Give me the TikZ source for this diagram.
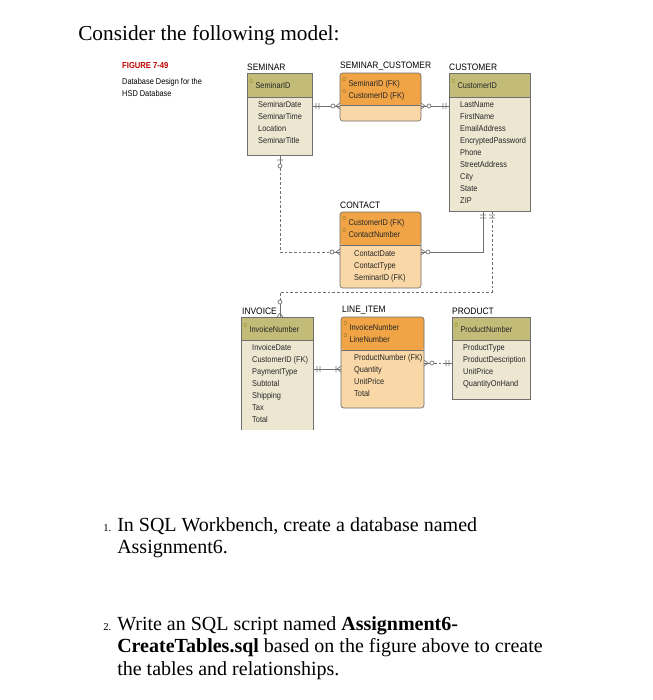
\documentclass[tikz,border=0pt]{standalone}
\usepackage{fontspec}
\setmainfont{Liberation Serif}
\newfontfamily\sansf{Liberation Sans}
\definecolor{ghead}{HTML}{C3BB78}
\definecolor{gbody}{HTML}{EDE7D2}
\definecolor{ohead}{HTML}{F0A446}
\definecolor{obody}{HTML}{FAD7A6}
\definecolor{lnc}{HTML}{707070}
\begin{document}
\begin{tikzpicture}[x=0.75pt,y=-0.75pt,
  ent/.style={draw=lnc,line width=0.5pt},
  etxt/.style={anchor=north west,inner sep=0pt,font=\sansf\fontsize{6.3}{9}\selectfont,text=black!85,align=left,xscale=0.88},
  ttl/.style={anchor=south west,inner sep=0pt,font=\sansf\fontsize{7}{8}\selectfont,xscale=0.9},
  rel/.style={lnc,line width=0.6pt},
  drel/.style={lnc,line width=0.6pt,dashed,dash pattern=on 2pt off 1.5pt},
  mk/.style={lnc,line width=0.5pt},
  body/.style={anchor=north west,inner sep=0pt,font=\fontsize{15}{17}\selectfont,align=left}]
\fill[white] (0,0) rectangle (653,700);
\useasboundingbox (0,0) rectangle (653,700);
\node[anchor=west,inner sep=0pt,font=\fontsize{16}{18}\selectfont] (head) at (78,35) {Consider the following model:};
\node[anchor=west,inner sep=0pt,font=\sansf\fontsize{6.5}{8}\selectfont\bfseries,text=red!75!black,xscale=0.88] (fig) at (122,66) {FIGURE 7-49};
\node[anchor=north west,inner sep=0pt,font=\sansf\fontsize{6.3}{9}\selectfont,align=left,xscale=0.88] (cap) at (122,78) {Database Design for the\\HSD Database};
% SEMINAR
\fill[gbody] (247,73) rectangle (312,155); \fill[ghead] (247,73) rectangle (312,97);
\draw[ent] (247,73) rectangle (312,155); \draw[ent] (247,97)--(312,97);
\node[ttl] (tsem) at (247,71) {SEMINAR};
\node[etxt] (ksem) at (249,79) {\textcolor{olive}{\small$^{\circ}$}\,SeminarID};
\node[etxt] (asem) at (258,101) {SeminarDate\\SeminarTime\\Location\\SeminarTitle};
% SEMINAR_CUSTOMER
\fill[obody,rounded corners=2pt] (340,73) rectangle (421,121); \fill[ohead,rounded corners=2pt] (340,73) rectangle (421,105);
\draw[ent,rounded corners=2pt] (340,73) rectangle (421,121); \draw[ent] (340,105)--(421,105);
\node[ttl] (tsc) at (340,71) {SEMINAR\_CUSTOMER};
\node[etxt] (ksc) at (342,77) {\textcolor{olive!70!black}{\small$^{\circ}$}\,SeminarID (FK)\\\textcolor{olive!70!black}{\small$^{\circ}$}\,CustomerID (FK)};
% CUSTOMER
\fill[gbody] (449,73) rectangle (530,211); \fill[ghead] (449,73) rectangle (530,97);
\draw[ent] (449,73) rectangle (530,211); \draw[ent] (449,97)--(530,97);
\node[ttl] (tcu) at (449,71) {CUSTOMER};
\node[etxt] (kcu) at (451,79) {\textcolor{olive}{\small$^{\circ}$}\,CustomerID};
\node[etxt] (acu) at (460,101) {LastName\\FirstName\\EmailAddress\\EncryptedPassword\\Phone\\StreetAddress\\City\\State\\ZIP};
% CONTACT
\fill[obody,rounded corners=2pt] (340,212) rectangle (421,288); \fill[ohead,rounded corners=2pt] (340,212) rectangle (421,245);
\draw[ent,rounded corners=2pt] (340,212) rectangle (421,288); \draw[ent] (340,245)--(421,245);
\node[ttl] (tco) at (340,209) {CONTACT};
\node[etxt] (kco) at (342,216) {\textcolor{olive!70!black}{\small$^{\circ}$}\,CustomerID (FK)\\\textcolor{olive!70!black}{\small$^{\circ}$}\,ContactNumber};
\node[etxt] (aco) at (354,250) {ContactDate\\ContactType\\SeminarID (FK)};
% INVOICE
\fill[gbody] (241,317) rectangle (313,430); \fill[ghead] (241,317) rectangle (313,340);
\draw[ent] (241,317)--(313,317)--(313,430); \draw[ent] (241,317)--(241,430); \draw[ent] (241,340)--(313,340);
\node[ttl] (tin) at (242,315) {INVOICE};
\node[etxt] (kin) at (243,323) {\textcolor{olive}{\small$^{\circ}$}\,InvoiceNumber};
\node[etxt] (ain) at (252,344) {InvoiceDate\\CustomerID (FK)\\PaymentType\\Subtotal\\Shipping\\Tax\\Total};
% LINE_ITEM
\fill[obody,rounded corners=2pt] (341,317) rectangle (424,408); \fill[ohead,rounded corners=2pt] (341,317) rectangle (424,350);
\draw[ent,rounded corners=2pt] (341,317) rectangle (424,408); \draw[ent] (341,350)--(424,350);
\node[ttl] (tli) at (342,315) {LINE\_ITEM};
\node[etxt] (kli) at (343,321) {\textcolor{olive!70!black}{\small$^{\circ}$}\,InvoiceNumber\\\textcolor{olive!70!black}{\small$^{\circ}$}\,LineNumber};
\node[etxt] (ali) at (354,354) {ProductNumber (FK)\\Quantity\\UnitPrice\\Total};
% PRODUCT
\fill[gbody] (452,317) rectangle (530,399); \fill[ghead] (452,317) rectangle (530,340);
\draw[ent] (452,317) rectangle (530,399); \draw[ent] (452,340)--(530,340);
\node[ttl] (tpr) at (452,315) {PRODUCT};
\node[etxt] (kpr) at (454,323) {\textcolor{olive}{\small$^{\circ}$}\,ProductNumber};
\node[etxt] (apr) at (463,344) {ProductType\\ProductDescription\\UnitPrice\\QuantityOnHand};
% relationships
\coordinate (a1) at (312,106); \coordinate (a2) at (340,106);
\draw[rel] (a1)--(331,106) (335,106)--(a2);
\draw[mk] (316,103)--(316,109) (319,103)--(319,109) (333,106) circle (2) (336,106)--(340,103) (336,106)--(340,109);
\coordinate (b1) at (421,106); \coordinate (b2) at (449,106);
\draw[rel] (b1)--(427,106) (431,106)--(b2);
\draw[mk] (425,106)--(421,103) (425,106)--(421,109) (429,106) circle (2) (443,103)--(443,109) (446,103)--(446,109);
\coordinate (c1) at (280,155); \coordinate (c2) at (280,252); \coordinate (c3) at (340,252);
\draw[drel] (280,168)--(c2)--(330,252); \draw[rel] (c1)--(280,164) (334,252)--(c3);
\draw[mk] (277,160)--(283,160) (280,166) circle (2) (332,252) circle (2) (336,252)--(340,249) (336,252)--(340,255);
\coordinate (d1) at (421,252); \coordinate (d2) at (483,211);
\draw[rel] (d1)--(426,252) (430,252)--(483,252)--(d2);
\draw[mk] (425,252)--(421,249) (425,252)--(421,255) (428,252) circle (2) (480,215)--(486,215) (480,218)--(486,218);
\coordinate (e1) at (492,211); \coordinate (e2) at (280,317);
\draw[drel] (e1)--(492,292)--(280,292)--(280,300);
\draw[rel] (280,304)--(e2);
\draw[mk] (489,215)--(495,215) (489,218)--(495,218) (280,302) circle (2) (280,313)--(277,317) (280,313)--(283,317);
\coordinate (f1) at (313,369); \coordinate (f2) at (341,369);
\draw[rel] (f1)--(f2);
\draw[mk] (317,366)--(317,372) (320,366)--(320,372) (336,366)--(336,372) (337,369)--(341,366) (337,369)--(341,372);
\coordinate (g1) at (424,363); \coordinate (g2) at (452,363);
\draw[rel] (g1)--(430,363); \draw[drel] (434,363)--(446,363); \draw[rel] (446,363)--(g2);
\draw[mk] (428,363)--(424,360) (428,363)--(424,366) (432,363) circle (2) (446,360)--(446,366) (449,360)--(449,366);
% text below
\node[anchor=base west,inner sep=0pt,font=\fontsize{8}{9}\selectfont] (n1) at (103,531) {1.};
\node[body] (t1) at (117,517) {In SQL Workbench, create a database named\\Assignment6.};
\node[anchor=base west,inner sep=0pt,font=\fontsize{8}{9}\selectfont] (n2) at (103,630) {2.};
\node[body] (t2) at (117,616) {Write an SQL script named \textbf{Assignment6-}\\\textbf{CreateTables.sql} based on the figure above to create\\the tables and relationships.};
\end{tikzpicture}
\end{document}
